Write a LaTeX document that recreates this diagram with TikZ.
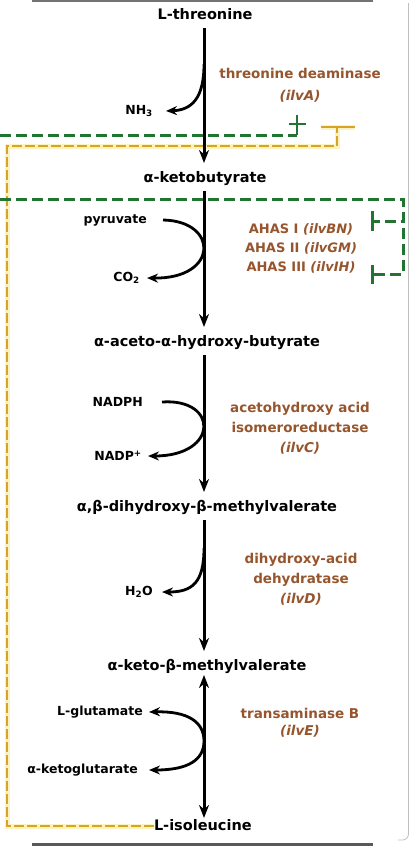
\documentclass[tikz,border=0pt]{standalone}
\usepackage{fontspec}
\setmainfont{DejaVu Sans}
\usetikzlibrary{arrows.meta}
\definecolor{enz}{RGB}{150,85,45}
\definecolor{grn}{RGB}{35,115,50}
\definecolor{gold}{RGB}{215,165,35}
\definecolor{goldglow}{RGB}{252,243,195}
\begin{document}
\begin{tikzpicture}[x=1pt,y=-1pt,
  metab/.style={font=\bfseries\fontsize{14.5}{16}\selectfont, text height=11pt, text depth=3pt, inner sep=0pt, outer sep=0pt},
  side/.style={font=\bfseries\fontsize{12.5}{14}\selectfont, inner sep=1pt},
  enzlab/.style={font=\bfseries\fontsize{13.5}{20}\selectfont, text=enz, align=center, inner sep=0pt},
  mainarrow/.style={line width=3pt, -{Stealth[length=13pt,width=10pt]}, shorten <=6pt, shorten >=8pt},
  biarrow/.style={line width=3pt, {Stealth[length=13pt,width=10pt]}-{Stealth[length=13pt,width=10pt]}, shorten <=2pt, shorten >=1pt},
  sidearrow/.style={line width=2.8pt, -{Stealth[length=11pt,width=9pt]}},
  grnline/.style={grn, line width=3pt, dash pattern=on 11pt off 5pt},
  goldline/.style={gold, line width=2.4pt, dash pattern=on 10pt off 3pt},
  goldhalo/.style={goldglow, line width=5pt},
]
\useasboundingbox (0,0) rectangle (410,846);

% frame artefacts
\fill[black!55] (32,0) rectangle (373,2);
\fill[black!65] (32,843) rectangle (373,846);
\draw[black!25, line width=0.8pt, rounded corners=6pt] (408.5,3) -- (408.5,840) -- (398,840);

% spine
\coordinate (spine) at (204,0);

% metabolites
\node[metab] (thr)  at (205,15)  {L-threonine};
\node[metab] (kb)   at (205,178) {α-ketobutyrate};
\node[metab] (aah)  at (207,342) {α-aceto-α-hydroxy-butyrate};
\node[metab] (dhmv) at (207,507) {α,β-dihydroxy-β-methylvalerate};
\node[metab] (kmv)  at (207,666) {α-keto-β-methylvalerate};
\node[metab, anchor=west] (ile) at (154,826) {L-isoleucine};

% feedback lines (gold)
\coordinate (y1) at (7,826);
\coordinate (y2) at (7,146);
\coordinate (y3) at (337,146);
\coordinate (y4) at (337,127);
\coordinate (tb1) at (321,127);
\coordinate (tb2) at (355,127);
\draw[goldhalo] (ile.west) -- (y1) -- (y2) -- (y3) -- (y4);
\draw[goldhalo] (tb1) -- (tb2);
\draw[goldline] (ile.west) -- (y1) -- (y2) -- (y3) -- (y4);
\draw[gold, line width=2.6pt] (tb1) -- (tb2);

% feedback lines (green)
\coordinate (g1a) at (0,135);
\coordinate (g1b) at (297,135);
\coordinate (p1) at (289,124);
\coordinate (p2) at (306,124);
\coordinate (p3) at (297,115);
\draw[grnline] (g1a) -- (g1b);
\draw[grn, line width=2.6pt] (p1) -- (p2);
\draw[grn, line width=2.6pt] (p3) -- (g1b);

\coordinate (g2a) at (0,199);
\coordinate (g2b) at (403,199);
\coordinate (g2c) at (403,274);
\coordinate (g2d) at (372,274);
\coordinate (g2e) at (403,221);
\coordinate (g2f) at (372,221);
\draw[grnline] (g2a) -- (g2b) -- (g2c) -- (g2d);
\draw[grnline, dash phase=3pt] (g2f) -- (g2e);
\draw[grn, line width=3pt] ([yshift=-10pt]g2f) -- ([yshift=10pt]g2f);
\draw[grn, line width=3pt] ([yshift=-10pt]g2d) -- ([yshift=9pt]g2d);

% main arrows
\draw[mainarrow] (thr.south -| spine) -- (kb.north -| spine);
\draw[mainarrow] (kb.south -| spine) -- (aah.north -| spine);
\draw[mainarrow] (aah.south -| spine) -- (dhmv.north -| spine);
\draw[mainarrow] (dhmv.south -| spine) -- (kmv.north -| spine);
\draw[biarrow] (kmv.south -| spine) -- (ile.north -| spine);

% side substrates / products
\node[side, anchor=east] (nh3) at (154,111) {NH\textsubscript{3}};
\coordinate (s1) at (204,64);
\draw[sidearrow] (s1) .. controls (204,98) and (192,110) .. ([xshift=12pt]nh3.east);

\node[side, anchor=east] (pyr) at (148,220) {pyruvate};
\node[side, anchor=east] (co2) at (141,278) {CO\textsubscript{2}};
\draw[sidearrow] ([xshift=15pt]pyr.east) .. controls (219,221) and (219,279) .. ([xshift=6pt]co2.east);

\node[side, anchor=east] (nadph) at (144,402) {NADPH};
\node[side, anchor=east] (nadp) at (143,456) {NADP\textsuperscript{+}};
\draw[sidearrow] ([xshift=18pt]nadph.east) .. controls (219,398) and (219,456) .. ([xshift=5pt]nadp.east);

\node[side, anchor=east] (h2o) at (154,592) {H\textsubscript{2}O};
\coordinate (s4) at (204,548);
\draw[sidearrow] (s4) .. controls (204,583) and (192,592) .. ([xshift=8pt]h2o.east);

\node[side, anchor=east] (glu) at (144,712) {L-glutamate};
\node[side, anchor=east] (akg) at (139,770) {α-ketoglutarate};
\coordinate (s5) at (204,741);
\draw[sidearrow] (s5) .. controls (204,722) and (188,711) .. ([xshift=5pt]glu.east);
\draw[sidearrow] (s5) .. controls (204,760) and (188,770) .. ([xshift=10pt]akg.east);

% enzymes
\node[enzlab] (e1) at (300,85) {threonine deaminase\\[2pt]\textit{(ilvA)}};
\node[enzlab, font=\bfseries\fontsize{13}{19}\selectfont] (e2) at (301,248) {AHAS I \textit{(ilvBN)}\\AHAS II \textit{(ilvGM)}\\AHAS III \textit{(ilvIH)}};
\node[enzlab] (e3) at (300,428) {acetohydroxy acid\\isomeroreductase\\\textit{(ilvC)}};
\node[enzlab] (e4) at (301,579) {dihydroxy-acid\\dehydratase\\\textit{(ilvD)}};
\node[enzlab] (e5) at (300,723) {transaminase B\\[-3pt]\textit{(ilvE)}};
\end{tikzpicture}
\end{document}
